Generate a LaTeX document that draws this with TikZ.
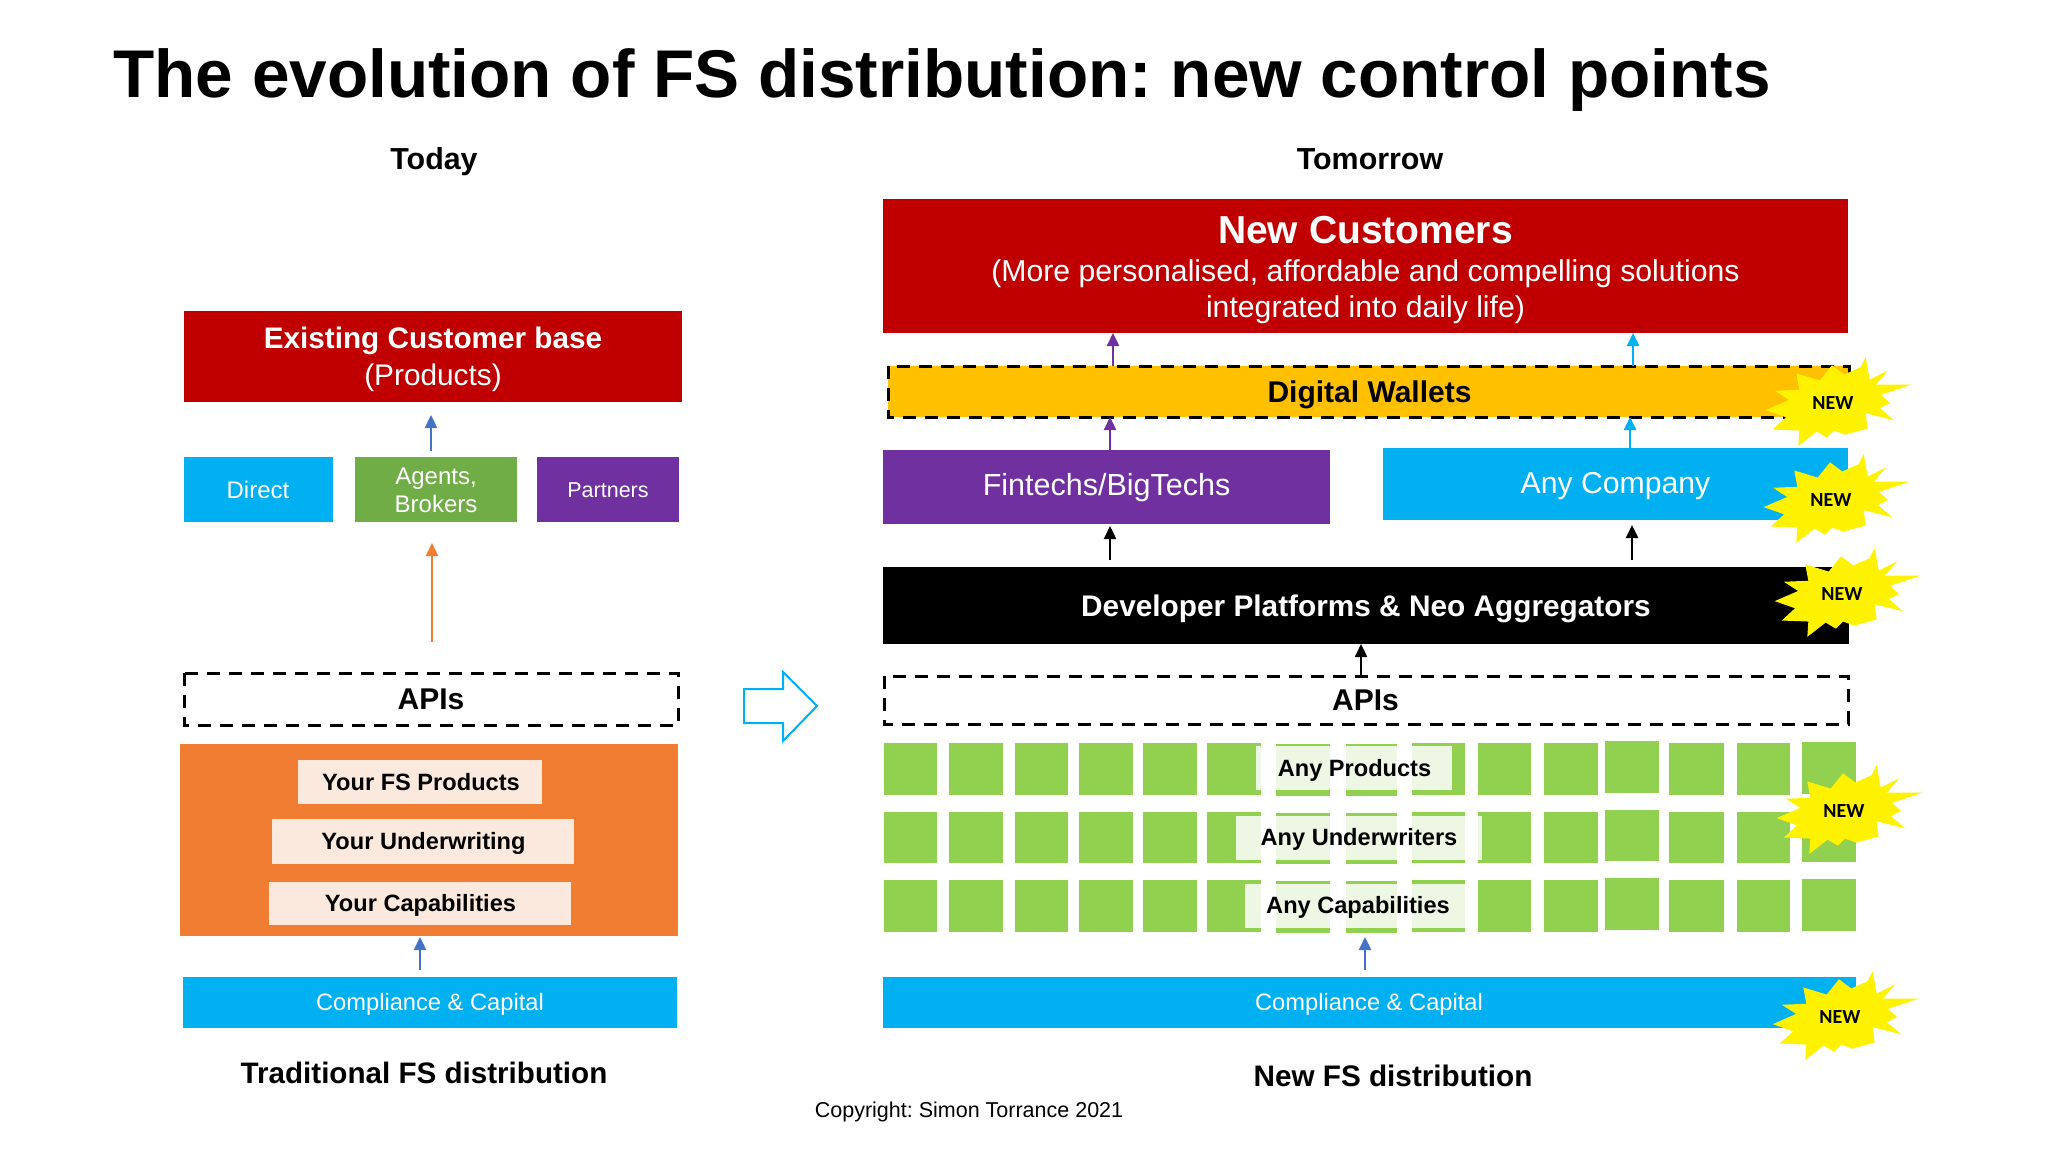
\documentclass[tikz,border=0pt]{standalone}
\usepackage{fontspec}
\setmainfont{Liberation Sans}
\newfontfamily\carl{Carlito}
\usetikzlibrary{arrows.meta}
\definecolor{fsred}{HTML}{C00000}
\definecolor{fsblue}{HTML}{00B0F0}
\definecolor{fsgreen}{HTML}{70AD47}
\definecolor{fspurple}{HTML}{7030A0}
\definecolor{fsorange}{HTML}{F07D32}
\definecolor{fsamber}{HTML}{FFC000}
\definecolor{fslime}{HTML}{92D050}
\definecolor{fspale}{HTML}{FBE9DD}
\definecolor{fsarrow}{HTML}{4472C4}
\newcommand{\fs}[2]{\fontsize{#1}{#2}\selectfont}
\tikzset{
  x=1pt,y=-1pt,
  lbl/.style={inner sep=0pt,outer sep=0pt,align=center},
  dashbox/.style={draw=black,line width=3pt,dash pattern=on 13pt off 9pt,fill=none},
  tip/.style={line width=2.4pt,-{Triangle[length=13pt,width=12pt]},shorten >=0pt},
  burst/.pic={
    \fill[yellow,scale=1.02] (32,-45)--(36,-23)--(54,-32)--(42,-18)--(77,-18)--(47,-8)--(56,0)--(46,5)--(60,17)--(32,10)--(34,25)--(12,31)--(1,27)--(-6,34)--(-16,28)--(-34,42)--(-33,27)--(-59,26)--(-46,14)--(-66,7)--(-43,-3)--(-57,-12)--(-33,-13)--(-36,-29)--(-13,-22)--(-1,-37)--(11,-28)--(27,-35)--cycle;
    \node[lbl,font=\carl\bfseries\fs{20}{24}] (-new) at (0,0) {NEW};
  }
}
\newcommand{\rbox}[6]{% name, x0,y0,x1,y1, fill
  \path[fill=#6] (#2,#3) rectangle (#4,#5);
  \coordinate (#1) at ({(#2+#4)/2},{(#3+#5)/2});
  \coordinate (#1-n) at ({(#2+#4)/2},#3);
  \coordinate (#1-s) at ({(#2+#4)/2},#5);
}
\frenchspacing
\begin{document}
\begin{tikzpicture}
\useasboundingbox[fill=white] (0,0) rectangle (2048,1152);

% title
\node[lbl,font=\bfseries\fs{67.5}{78}] (title) at (942,80) {The evolution of FS distribution: new control points};
\node[lbl,font=\bfseries\fs{30.4}{34}] (today) at (434,162) {Today};
\node[lbl,font=\bfseries\fs{30.4}{34}] (tomorrow) at (1370,159.5) {Tomorrow};

% ---------- left column
\rbox{redL}{184}{311}{682}{402}{fsred}
\node[lbl,text=white,font=\bfseries\fs{29.7}{36}] (redLa) at (433,341) {Existing Customer base};
\node[lbl,text=white,font=\fs{29.8}{34}] (redLb) at (433,378) {(Products)};
\rbox{direct}{184}{457}{333}{522}{fsblue}
\node[lbl,text=white,font=\fs{24}{28}] (directT) at (258,490) {Direct};
\rbox{agents}{355}{457}{517}{522}{fsgreen}
\node[lbl,text=white,font=\fs{24}{28}] (agentsT) at (436,490) {Agents,\\Brokers};
\rbox{partners}{537}{457}{679}{522}{fspurple}
\node[lbl,text=white,font=\fs{21.5}{28}] (partnersT) at (608,490) {Partners};

\draw[dashbox] (184,673) rectangle (678,725);
\node[lbl,font=\bfseries\fs{30}{36}] (apiL) at (431,699) {APIs};

\rbox{orangeL}{180}{744}{678}{936}{fsorange}
\rbox{prodL}{298}{760}{542}{804}{fspale}
\rbox{undL}{272}{819}{574}{864}{fspale}
\rbox{capL}{269}{882}{571}{925}{fspale}
\node[lbl,font=\bfseries\fs{23.6}{30}] (prodLT) at (421,782) {Your FS Products};
\node[lbl,font=\bfseries\fs{23.6}{30}] (undLT) at (423.5,843) {Your Underwriting};
\node[lbl,font=\bfseries\fs{23.6}{30}] (capLT) at (420.5,905) {Your Capabilities};
\rbox{compL}{183}{977}{677}{1028}{fsblue}
\node[lbl,text=white,font=\fs{23.7}{30}] (compLT) at (430,1004.5) {Compliance \& Capital};

\node[lbl,font=\bfseries\fs{29.6}{36}] (tradT) at (424,1073) {Traditional FS distribution};
\node[lbl,font=\bfseries\fs{29.7}{36}] (newT) at (1393,1076) {New FS distribution};
\node[lbl,font=\fs{21.5}{26}] (copyT) at (969,1112) {Copyright: Simon Torrance 2021};

% left arrows
\coordinate (aLa) at (431,451); \coordinate (aLb) at (431,415);
\draw[tip,fsarrow] (aLa) -- (aLb);
\coordinate (aLc) at (432,642); \coordinate (aLd) at (432,543);
\draw[tip,fsorange] (aLc) -- (aLd);
\coordinate (aLe) at (420,970); \coordinate (aLf) at (420,937);
\draw[tip,fsarrow] (aLe) -- (aLf);

% open block arrow
\draw[fill=white,draw=fsblue,line width=2pt,line join=miter] (744,689) -- (783,689) -- (783,672) -- (817,706) -- (783,741) -- (783,723) -- (744,723) -- cycle;

% ---------- right column
\rbox{redR}{883}{199}{1848}{333}{fsred}
\node[lbl,text=white,font=\bfseries\fs{39}{44}] (redRa) at (1365.5,230) {New Customers};
\node[lbl,text=white,font=\fs{30.2}{36}] (redRb) at (1365.5,291.5) {(More personalised, affordable and compelling solutions\\integrated into daily life)};

\rbox{wallet}{888}{366}{1849}{417}{fsamber}
\draw[dashbox] (888,366) rectangle (1849,417);
\node[lbl,font=\bfseries\fs{30}{36}] (walletT) at (1369.5,394.5) {Digital Wallets};
\rbox{fintech}{883}{450}{1330}{524}{fspurple}
\node[lbl,text=white,font=\fs{30.5}{36}] (fintechT) at (1106.5,488) {Fintechs/BigTechs};
\rbox{anyco}{1383}{448}{1848}{520}{fsblue}
\node[lbl,text=white,font=\fs{30.2}{36}] (anycoT) at (1615.5,486) {Any Company};
\rbox{dev}{883}{567}{1849}{644}{black}
\node[lbl,text=white,font=\bfseries\fs{29.8}{36}] (devT) at (1366,609) {Developer Platforms \& Neo Aggregators};
\draw[dashbox] (884,676) rectangle (1848,724);
\node[lbl,font=\bfseries\fs{30}{36}] (apiR) at (1365.5,700) {APIs};

% green squares
\foreach \xa/\xb/\dy in {884/937/0,949/1003/0,1015/1068/0,1079/1133/0,1143/1197/0,1207/1261/0,1276/1330/1,1346/1397/0.5,1412/1465/-0.5,1478/1531/-0.5,1544/1598/-0.5,1605/1659/-2,1669/1724/-0.5,1737/1790/-0.5,1802/1856/-1.5}{
  \fill[fslime] (\xa,743+\dy) rectangle (\xb,795+\dy);
  \fill[fslime] (\xa,812+\dy) rectangle (\xb,863+\dy);
  \fill[fslime] (\xa,880+\dy) rectangle (\xb,932+\dy);
}
\path[fill=white,fill opacity=.85] (1256,746) rectangle (1452,790);
\path[fill=white,fill opacity=.85] (1236,816) rectangle (1482,860);
\path[fill=white,fill opacity=.85] (1245,884) rectangle (1465,928);
\node[lbl,font=\bfseries\fs{23.6}{30}] (anyP) at (1354.5,770.5) {Any Products};
\node[lbl,font=\bfseries\fs{23.6}{30}] (anyU) at (1359,839.5) {Any Underwriters};
\node[lbl,font=\bfseries\fs{23.6}{30}] (anyC) at (1358,907.5) {Any Capabilities};

\rbox{compR}{883}{977}{1856}{1028}{fsblue}
\node[lbl,text=white,font=\fs{23.7}{30}] (compRT) at (1369,1004.5) {Compliance \& Capital};

% right arrows
\draw[tip,fspurple] (1113,0 |- wallet-n) -- (1113,0 |- redR-s);
\draw[tip,fsblue]   (1633,0 |- wallet-n) -- (1633,0 |- redR-s);
\draw[tip,fspurple] (1110,0 |- fintech-n) -- (1110,0 |- wallet-s);
\draw[tip,fsblue]   (1630,0 |- anyco-n) -- (1630,0 |- wallet-s);
\coordinate (bkA) at (1110,560); \coordinate (bkB) at (1632,560);
\draw[tip,black] (bkA) -- (1110,526);
\draw[tip,black] (bkB) -- (1632,525);
\draw[tip,black] (1361,676) -- (1361,0 |- dev-s);
\coordinate (bkC) at (1365,970);
\draw[tip,fsarrow] (bkC) -- (1365,937);

% starbursts
\pic (s1) at (1833,403) {burst};
\pic (s2) at (1831,500) {burst};
\pic (s3) at (1842,594) {burst};
\pic (s4) at (1844,811) {burst};
\pic (s5) at (1840,1017) {burst};
\end{tikzpicture}
\end{document}
